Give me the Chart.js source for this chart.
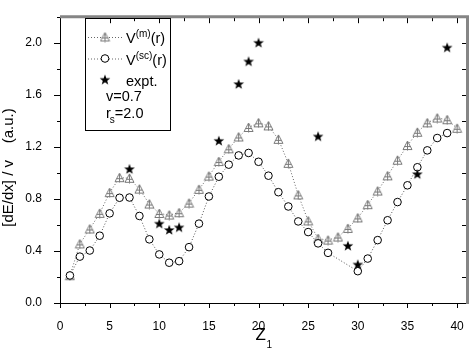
<!DOCTYPE html>
<html><head><meta charset="utf-8">
<script src="https://cdn.jsdelivr.net/npm/chart.js@4"></script>
<style>html,body{margin:0;padding:0;background:#fff;}canvas{display:block}</style>
</head><body>
<canvas id="c" width="474" height="353"></canvas>
<script>
// ---- data ----
const zValues = [1,2,3,4,5,6,7,8,9,10,11,12,13,14,15,16,17,18,19,20,21,22,23,24,25,26,27,28,29,30,31,32,33,34,35,36,37,38,39,40];
const vmValues = [0.21,0.455,0.57,0.69,0.85,0.965,0.96,0.877,0.762,0.689,0.677,0.695,0.769,0.875,0.977,1.089,1.187,1.278,1.351,1.387,1.363,1.26,1.075,0.832,0.632,0.496,0.484,0.508,0.574,0.655,0.757,0.862,0.979,1.099,1.212,1.314,1.387,1.424,1.411,1.345];
const vscValues = [0.212,0.357,0.404,0.518,0.69,0.81,0.812,0.67,0.49,0.374,0.31,0.322,0.43,0.611,0.82,0.972,1.065,1.136,1.155,1.087,0.98,0.853,0.743,0.628,0.546,0.459,0.386,null,null,0.245,0.342,0.484,0.637,0.777,0.906,1.045,1.175,1.27,1.308,null];
const exptZ = [7,10,11,12,16,18,19,20,26,29,30,36,39];
const exptValues = [1.031,0.611,0.562,0.582,1.248,1.685,1.859,2.003,1.282,0.44,0.296,0.992,1.966];
const xTickValues = [0,5,10,15,20,25,30,35,40];
const yTickValues = [0.0,0.4,0.8,1.2,1.6,2.0];
const xTitle = 'Z', xTitleSub = '1';
const yTitle = '[dE/dx] / v    (a.u.)';
const legendLabels = [{main:'V', sup:'(m)', tail:'(r)'}, {main:'V', sup:'(sc)', tail:'(r)'}, {main:'expt.'}];
const noteV = 'v=0.7', noteR = 'r', noteRSub = 's', noteRTail = '=2.0';

const FONT = '"Liberation Sans", Arial, Helvetica, sans-serif';

function triMarker(){
  const c=document.createElement('canvas'); c.width=11; c.height=11;
  const g=c.getContext('2d');
  g.strokeStyle='#7a7a7a'; g.fillStyle='#fff'; g.lineWidth=1;
  g.beginPath(); g.moveTo(5.5,1); g.lineTo(10,9.5); g.lineTo(1,9.5); g.closePath(); g.fill(); g.stroke();
  g.beginPath(); g.moveTo(5.5,1); g.lineTo(5.5,10.5); g.moveTo(2,6.5); g.lineTo(9,6.5); g.stroke();
  return c;
}
function starMarker(){
  const c=document.createElement('canvas'); c.width=12; c.height=12;
  const g=c.getContext('2d'); g.fillStyle='#000';
  g.beginPath();
  for(let i=0;i<10;i++){
    const r = i%2===0 ? 5.6 : 2.3;
    const a = -Math.PI/2 + i*Math.PI/5;
    const x = 6 + r*Math.cos(a), y = 6.3 + r*Math.sin(a);
    if(i===0) g.moveTo(x,y); else g.lineTo(x,y);
  }
  g.closePath(); g.fill();
  return c;
}
const TRI = triMarker(), STAR = starMarker();

const decor = {
  id:'decor',
  afterDraw(chart){
    const ctx=chart.ctx, a=chart.chartArea, xs=chart.scales.x, ys=chart.scales.y;
    ctx.save();
    // tick marks
    ctx.strokeStyle='#000'; ctx.lineWidth=1;
    ctx.beginPath();
    for(let z=0; z<=40.001; z+=2.5){
      const px=Math.round(xs.getPixelForValue(z))+0.5;
      const major = Math.abs(z/5-Math.round(z/5))<1e-6;
      ctx.moveTo(px,a.bottom); ctx.lineTo(px,a.bottom+(major?5:3));
      ctx.moveTo(px,a.top); ctx.lineTo(px,a.top+(major?6:4));
    }
    for(let i=0;i<=11;i++){
      const v=i*0.2;
      const py=Math.round(ys.getPixelForValue(v))+0.5;
      const major = i%2===0;
      ctx.moveTo(a.left-(major?6:3),py); ctx.lineTo(a.left,py);
      ctx.moveTo(a.right-5,py); ctx.lineTo(a.right,py);
    }
    ctx.stroke();
    // frame
    ctx.beginPath();
    ctx.moveTo(a.left+0.5,a.top); ctx.lineTo(a.left+0.5,a.bottom+0.5); ctx.lineTo(a.right,a.bottom+0.5);
    ctx.stroke();
    ctx.strokeStyle='#858585'; ctx.lineWidth=3;
    ctx.beginPath();
    ctx.moveTo(a.left,a.top-0.5); ctx.lineTo(a.right+2,a.top-0.5);
    ctx.moveTo(a.right+0.5,a.top-2); ctx.lineTo(a.right+0.5,a.bottom+1);
    ctx.stroke();
    // axis titles
    ctx.fillStyle='#000';
    ctx.font='17px '+FONT; ctx.textBaseline='alphabetic'; ctx.textAlign='left';
    const wZ=ctx.measureText(xTitle).width;
    ctx.font='10px '+FONT;
    const w1=ctx.measureText(xTitleSub).width;
    const cx=(a.left+a.right)/2, zx=cx-(wZ+w1)/2;
    ctx.font='17px '+FONT; ctx.fillText(xTitle,zx,340);
    ctx.font='10px '+FONT; ctx.fillText(xTitleSub,zx+wZ+0.5,348);
    ctx.save();
    ctx.translate(9,167.5); ctx.rotate(-Math.PI/2);
    ctx.font='15px '+FONT; ctx.textAlign='center'; ctx.textBaseline='middle';
    ctx.fillText(yTitle,0,0);
    ctx.restore();
    // legend box
    ctx.strokeStyle='#000'; ctx.lineWidth=1;
    ctx.strokeRect(85.5,18.5,85,112);
    const rows=[37,58.5];
    ctx.strokeStyle='#666'; ctx.setLineDash([1,2]);
    rows.forEach(y=>{ctx.beginPath(); ctx.moveTo(88,y+0.5); ctx.lineTo(123,y+0.5); ctx.stroke();});
    ctx.setLineDash([]);
    ctx.drawImage(TRI,105-5.5,37-5.5);
    ctx.beginPath(); ctx.arc(105,58.5,3.8,0,Math.PI*2); ctx.fillStyle='#fff'; ctx.fill(); ctx.strokeStyle='#000'; ctx.stroke();
    ctx.drawImage(STAR,105-6,80-6.3);
    ctx.fillStyle='#000'; ctx.textAlign='left'; ctx.textBaseline='alphabetic';
    const base=[43,64.5];
    legendLabels.slice(0,2).forEach((l,i)=>{
      let x=126;
      ctx.font='14.5px '+FONT; ctx.fillText(l.main,x,base[i]); x+=ctx.measureText(l.main).width;
      ctx.font='10px '+FONT; ctx.fillText(l.sup,x,base[i]-6); x+=ctx.measureText(l.sup).width;
      ctx.font='14.5px '+FONT; ctx.fillText(l.tail,x,base[i]);
    });
    ctx.font='14.5px '+FONT; ctx.fillText(legendLabels[2].main,126,86);
    ctx.fillText(noteV,106,101);
    ctx.fillText(noteR,106,118);
    let rx=106+ctx.measureText(noteR).width;
    ctx.font='10px '+FONT; ctx.fillText(noteRSub,rx-1,123);
    ctx.font='14.5px '+FONT; ctx.fillText(noteRTail,rx+4,118);
    ctx.restore();
  }
};

new Chart(document.getElementById('c'),{
  type:'scatter',
  data:{datasets:[
    {label:'expt', data:exptZ.map((z,i)=>({x:z,y:exptValues[i]})), pointStyle:STAR, pointRadius:6, showLine:false},
    {label:'Vsc', data:zValues.map((z,i)=>({x:z,y:vscValues[i]})), showLine:true, spanGaps:true,
      borderColor:'#555', borderWidth:1, borderDash:[1,2], pointStyle:'circle', pointRadius:3.8,
      pointBorderColor:'#000', pointBackgroundColor:'#fff', pointBorderWidth:1},
    {label:'Vm', data:zValues.map((z,i)=>({x:z,y:vmValues[i]})), showLine:true,
      borderColor:'#666', borderWidth:1, borderDash:[1,2], pointStyle:TRI, pointRadius:5}
  ]},
  options:{
    responsive:false, animation:false, devicePixelRatio:1,
    layout:{padding:{top:2,right:2,left:0,bottom:0}},
    plugins:{legend:{display:false},tooltip:{enabled:false}},
    scales:{
      x:{type:'linear',min:0,max:41,
        grid:{display:false}, border:{display:false},
        afterBuildTicks(s){s.ticks=xTickValues.map(v=>({value:v}));},
        afterFit(s){s.height=50;},
        ticks:{padding:8.5,color:'#000',font:{family:FONT,size:12},maxRotation:0,callback:v=>String(v)}},
      y:{type:'linear',min:0,max:2.2,
        grid:{display:false}, border:{display:false},
        afterBuildTicks(s){s.ticks=yTickValues.map(v=>({value:v}));},
        afterFit(s){s.width=60;},
        ticks:{padding:10,color:'#000',font:{family:FONT,size:12},callback:v=>Number(v).toFixed(1)}}
    }
  },
  plugins:[decor]
});
</script>
</body></html>
